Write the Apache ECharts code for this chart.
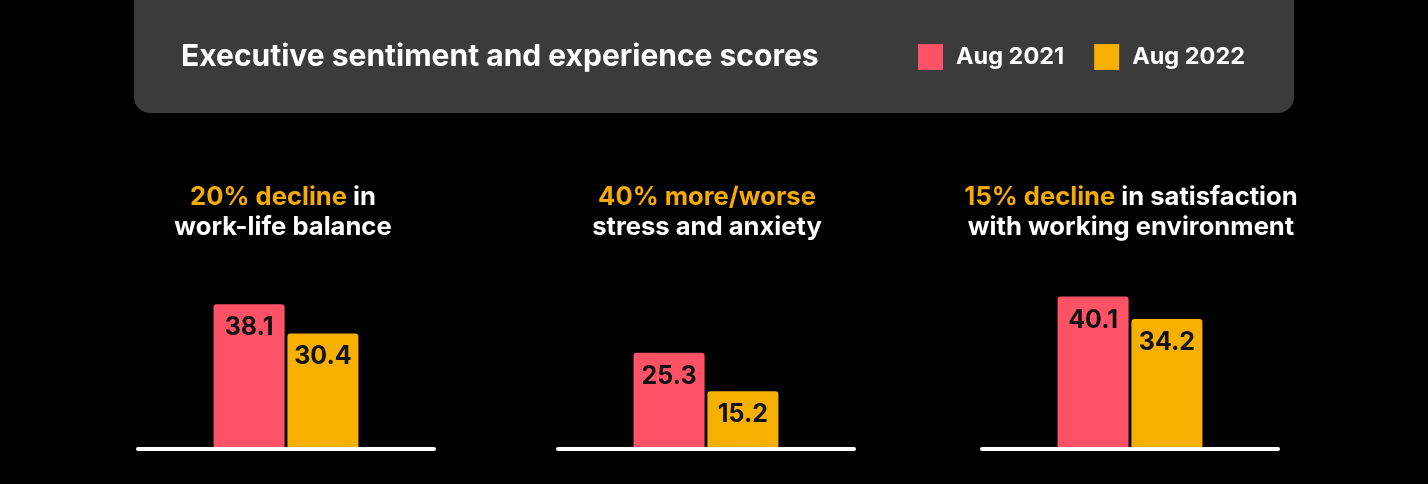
<!DOCTYPE html>
<html>
<head>
<meta charset="utf-8">
<script src="https://cdn.jsdelivr.net/npm/echarts@6/dist/echarts.min.js"></script>
<style>
html,body{margin:0;padding:0;background:#000;}
#chart{width:1428px;height:484px;}
</style>
</head>
<body>
<div id="chart"></div>
<script>
const categories = ['work-life balance', 'stress and anxiety', 'working environment'];
const seriesNames = ['Aug 2021', 'Aug 2022'];
const aug2021 = [38.1, 25.3, 40.1];
const aug2022 = [30.4, 15.2, 34.2];
const highlights = ['20% decline', '40% more/worse', '15% decline'];
const line1Rest = [' in', '', ' in satisfaction'];
const line2 = ['work-life balance', 'stress and anxiety', 'with working environment'];
const chartTitle = 'Executive sentiment and experience scores';

const RED = '#ff5267';
const ORANGE = '#f7b000';
const FONT = 'Inter, "Noto Sans", sans-serif';

const gridLefts = [138, 558, 982];
const grids = [], xAxes = [], yAxes = [], series = [], graphics = [];

graphics.push({
  type: 'rect', z: 0,
  shape: {x: 134, y: -20, width: 1160, height: 133, r: 16},
  style: {fill: '#3b3b3b'}
});

categories.forEach((cat, i) => {
  grids.push({left: gridLefts[i], width: 296, top: 259, height: 190});
  xAxes.push({
    gridIndex: i, type: 'category', data: [cat], z: 10,
    axisLine: {show: true, lineStyle: {color: '#ffffff', width: 4}},
    axisTick: {show: false}, axisLabel: {show: false}, splitLine: {show: false}
  });
  yAxes.push({gridIndex: i, type: 'value', min: 0, max: 50, show: false, splitLine: {show: false}});
  const label = {
    show: true, position: 'insideTop', distance: 11,
    color: '#111', fontSize: 25, fontWeight: 700, fontFamily: FONT, lineHeight: 25
  };
  series.push({
    name: seriesNames[0], type: 'bar', xAxisIndex: i, yAxisIndex: i,
    data: [aug2021[i]], barWidth: 71, barGap: '4%',
    itemStyle: {color: RED, borderRadius: [3, 3, 0, 0]}, label: label
  });
  series.push({
    name: seriesNames[1], type: 'bar', xAxisIndex: i, yAxisIndex: i,
    data: [aug2022[i]], barWidth: 71, barGap: '4%',
    itemStyle: {color: ORANGE, borderRadius: [3, 3, 0, 0]}, label: label
  });
  const center = [283, 707, 1131][i];
  graphics.push({
    type: 'text', z: 5, x: center, y: 212,
    style: {
      text: '{o|' + highlights[i] + '}{w|' + line1Rest[i] + '}\n{w|' + line2[i] + '}',
      align: 'center', verticalAlign: 'middle',
      rich: {
        o: {fill: '#f5ab00', fontSize: 25.6, fontWeight: 700, fontFamily: FONT, lineHeight: 30},
        w: {fill: '#ffffff', fontSize: 25.6, fontWeight: 700, fontFamily: FONT, lineHeight: 30}
      }
    }
  });
});

const chart = echarts.init(document.getElementById('chart'));
chart.setOption({
  backgroundColor: '#000000',
  animation: false,
  title: {
    text: chartTitle, left: 181, top: 42, padding: 0,
    textStyle: {color: '#ffffff', fontSize: 30, fontWeight: 700, fontFamily: FONT, lineHeight: 30}
  },
  legend: {
    data: seriesNames, right: 183, top: 44, padding: 0,
    icon: 'rect', itemWidth: 25, itemHeight: 26, itemGap: 30,
    textStyle: {color: '#ffffff', fontSize: 23.5, fontWeight: 700, fontFamily: FONT, padding: [0, 0, 0, 8]}
  },
  graphic: graphics,
  grid: grids, xAxis: xAxes, yAxis: yAxes, series: series
});
</script>
</body>
</html>
